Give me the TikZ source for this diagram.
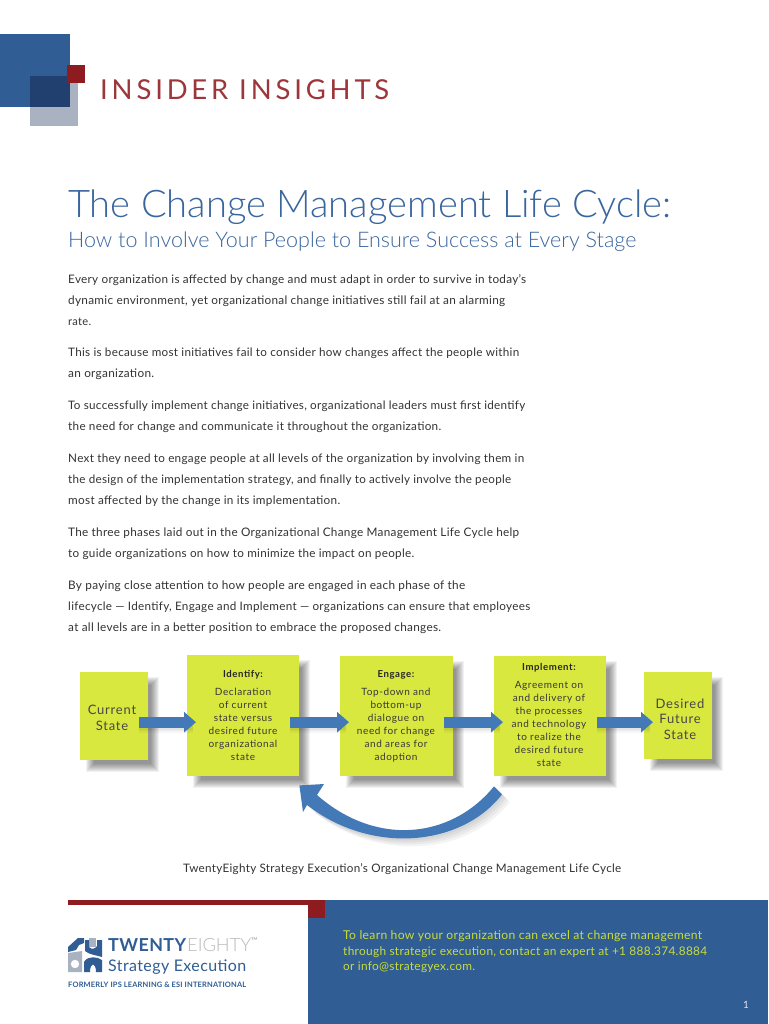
\documentclass[tikz,border=0pt]{standalone}
\usepackage{fontspec}
\usepackage{graphicx}
\setmainfont{Lato}[LetterSpace=2.5]
\newfontfamily\plainf{Lato}
\newfontfamily\lightf{Lato Light}
\newfontfamily\boxf{Lato}[LetterSpace=6]
\usetikzlibrary{arrows.meta,calc}
\definecolor{hblue}{HTML}{2F5D94}
\definecolor{hdark}{HTML}{22406F}
\definecolor{hgrey}{HTML}{A9B2C0}
\definecolor{hred}{HTML}{8E1B20}
\definecolor{tblue}{HTML}{3A669E}
\definecolor{boxy}{HTML}{D9E83F}
\definecolor{arrowb}{HTML}{4479B8}
\definecolor{bodyt}{HTML}{333333}
\definecolor{foott}{HTML}{C9DC3C}
\tikzset{
  linetxt/.style={anchor=west,inner sep=0pt,text=bodyt,font=\fontsize{11.5}{12}\selectfont},
  boxn/.style={fill=boxy,inner sep=0pt,anchor=north west,align=center,text=black!75},
  flow/.style={draw=arrowb,line width=11pt,-{Triangle[length=12pt,width=20pt]},shorten <=-9pt,shorten >=-9pt},
  flowsh/.style={draw=black,opacity=.035,line width=11pt,shorten <=-9pt,shorten >=-6pt},
  boxtxt/.style={inner sep=0pt,align=center,text=black!78,font=\boxf\fontsize{10}{13}\selectfont},
  boxhd/.style={inner sep=0pt,text=black!85,font=\boxf\fontsize{9.6}{13}\selectfont\bfseries},
  bigtxt/.style={inner sep=0pt,align=center,text=black!72,font=\boxf\fontsize{13}{15.5}\selectfont},
}
\newcommand{\fitline}[5]{% name,x,y,width,text
  \node[linetxt] (#1) at (#2,#3+2) {\resizebox{#4pt}{!}{\strut #5}};}
\newcommand{\softshadow}[4]{% x1,y1,x2,y2
  \foreach \d in {0,1,...,8}{
    \fill[black,opacity=.055] (#1+6+\d,#2+5+\d) rectangle (#3+7-\d+4,#4+8-\d+4);
  }}
\begin{document}
\begin{tikzpicture}[x=1pt,y=-1pt]
\useasboundingbox (0,0) rectangle (768,1024);
\fill[white] (0,0) rectangle (768,1024);
% header
\fill[hgrey] (30,76) rectangle (78,126);
\fill[hblue] (0,34) rectangle (70,107);
\fill[hdark] (30,76) rectangle (70,107);
\fill[hred] (67,65) rectangle (85,83);
\node[anchor=west,inner sep=0pt,text=hred!88] (ins) at (100,90) {\resizebox{289pt}{!}{\plainf\addfontfeatures{LetterSpace=14}\fontsize{28}{30}\selectfont INSIDER INSIGHTS}};
% titles
\node[anchor=west,inner sep=0pt,text=tblue] (title) at (68,209) {\resizebox{603pt}{!}{\lightf\fontsize{36}{40}\selectfont\strut The Change Management Life Cycle:}};
\node[anchor=west,inner sep=0pt,text=tblue] (sub) at (68,243) {\resizebox{568pt}{!}{\lightf\fontsize{19}{22}\selectfont\strut How to Involve Your People to Ensure Success at Every Stage}};
% body
\fitline{l1}{68}{279}{458}{Every organization is affected by change and must adapt in order to survive in today’s}
\fitline{l2}{68}{300}{437}{dynamic environment, yet organizational change initiatives still fail at an alarming}
\fitline{l3}{68}{321}{23}{rate.}
\fitline{l4}{68}{352}{451}{This is because most initiatives fail to consider how changes affect the people within}
\fitline{l5}{68}{373}{86}{an organization.}
\fitline{l6}{68}{405}{457}{To successfully implement change initiatives, organizational leaders must first identify}
\fitline{l7}{68}{426}{373}{the need for change and communicate it throughout the organization.}
\fitline{l8}{68}{458}{456}{Next they need to engage people at all levels of the organization by involving them in}
\fitline{l9}{68}{479}{443}{the design of the implementation strategy, and finally to actively involve the people}
\fitline{l10}{68}{500}{272}{most affected by the change in its implementation.}
\fitline{l11}{68}{532}{451}{The three phases laid out in the Organizational Change Management Life Cycle help}
\fitline{l12}{68}{553}{346}{to guide organizations on how to minimize the impact on people.}
\fitline{l13}{68}{585}{397}{By paying close attention to how people are engaged in each phase of the}
\fitline{l14}{68}{606}{462}{lifecycle — Identify, Engage and Implement — organizations can ensure that employees}
\fitline{l15}{68}{627}{373}{at all levels are in a better position to embrace the proposed changes.}
% shadows
\softshadow{80}{672}{148}{760}
\softshadow{187}{655}{299}{776}
\softshadow{340}{656}{453}{776}
\softshadow{494}{656}{606}{776}
\softshadow{644}{672}{712}{759}
% boxes
\node[boxn,minimum width=68pt,minimum height=88pt] (cur) at (80,672) {};
\node[boxn,minimum width=112pt,minimum height=121pt] (ide) at (187,655) {};
\node[boxn,minimum width=113pt,minimum height=120pt] (eng) at (340,656) {};
\node[boxn,minimum width=112pt,minimum height=120pt] (imp) at (494,656) {};
\node[boxn,minimum width=68pt,minimum height=87pt] (des) at (644,672) {};
% box texts
\node[bigtxt] (curt) at (112,718) {Current\\State};
\node[bigtxt] (dest) at (680,719) {Desired\\Future\\State};
\node[boxhd] (ideh) at (243,675) {Identify:};
\node[boxtxt,anchor=north] (idet) at (243,688) {Declaration\\of current\\state versus\\desired future\\organizational\\state};
\node[boxhd] (engh) at (396,675) {Engage:};
\node[boxtxt,anchor=north] (enget) at (396,688) {Top-down and\\bottom-up\\dialogue on\\need for change\\and areas for\\adoption};
\node[boxhd] (imph) at (549,668) {Implement:};
\node[boxtxt,anchor=north] (impt) at (549,681) {Agreement on\\and delivery of\\the processes\\and technology\\to realize the\\desired future\\state};
% arrows
\coordinate (a1) at ([yshift=-6pt]cur.east);
\coordinate (b1) at (ide.west|-a1);
\coordinate (a2) at (ide.east|-a1);
\coordinate (b2) at (eng.west|-a1);
\coordinate (a3) at (eng.east|-a1);
\coordinate (b3) at (imp.west|-a1);
\coordinate (a4) at (imp.east|-a1);
\coordinate (b4) at (des.west|-a1);
\foreach \p/\q in {a1/b1,a2/b2,a3/b3,a4/b4}{
  \foreach \s in {-2,-3.5,-5}{
    \draw[flowsh] ([yshift=\s pt]\p) -- ([yshift=\s pt]\q);
  }
  \draw[flow] (\p) -- (\q);
}
% loop arrow
\coordinate (ls1) at ([shift={(0,10)}]imp.south west);
\coordinate (ls2) at ([shift={(8,18)}]imp.south west);
\coordinate (le) at ([shift={(0,9)}]ide.south east);
\foreach \o in {2,4,6,8}{
\begin{scope}[shift={(\o,\o)}]
\fill[black,opacity=.045] (494,786) .. controls (450,840) and (375,846) .. (317,795) -- (307,805) .. controls (370,854) and (460,848) .. (502,794) -- cycle;
\end{scope}
}
\fill[arrowb] (ls1) .. controls (450,840) and (375,846) .. (317,795) -- (324,784) -- (le) -- (303,812) -- (307,805) .. controls (370,854) and (460,848) .. (ls2) -- cycle;
% caption
\node[linetxt] (cap) at (183,870) {\resizebox{438pt}{!}{\strut TwentyEighty Strategy Execution’s Organizational Change Management Life Cycle}};
% footer
\fill[hblue] (308,900) rectangle (768,1024);
\fill[hred] (68,900) rectangle (308,905);
\fill[hred] (308,900) rectangle (325,918);
\node[linetxt,text=foott] (f1) at (343,937) {\resizebox{359pt}{!}{\strut To learn how your organization can excel at change management}};
\node[linetxt,text=foott] (f2) at (343,953) {\resizebox{364pt}{!}{\strut through strategic execution, contact an expert at +1 888.374.8884}};
\node[linetxt,text=foott] (f3) at (343,968) {\resizebox{132pt}{!}{\strut or info@strategyex.com.}};
\node[inner sep=0pt,text=white!85!hblue,font=\fontsize{10}{12}\selectfont] (pg) at (746,1005) {1};
% logo icon
\fill[hgrey] (68,953) -- (82,951) -- (82,972) -- (68,972) -- cycle;
\fill[white] (75,964) circle (4.2);
\fill[hgrey] (89,938) rectangle (96,947);
\fill[hblue] (68,947) -- (78,938) -- (84,938) -- (84,943) -- (79,945) -- (76,950) -- (68,952) -- cycle;
\fill[hblue] (85,940) -- (89,940) -- (89,947) .. controls (92,950) and (95,949) .. (97,946) -- (97,940) -- (102,940) -- (102,957) .. controls (96,955) and (90,955) .. (85,951) -- cycle;
\fill[hblue] (84,972) -- (84,962) .. controls (88,955) and (98,957) .. (102,960) -- (102,972) -- (96,972) .. controls (96,962) and (90,962) .. (90,972) -- cycle;
% logo text
\node[anchor=west,inner sep=0pt,text=hblue] (lg1) at (108,945) {\resizebox{78pt}{!}{\bfseries TWENTY}};
\node[anchor=west,inner sep=0pt,text=black!28] (lg2) at (187,945) {\resizebox{64pt}{!}{\lightf EIGHTY}};
\node[anchor=south west,inner sep=0pt,text=black!45,font=\fontsize{4}{5}\selectfont] (lg3) at (251,941) {TM};
\node[anchor=west,inner sep=0pt,text=hblue] (lg4) at (108,968) {\resizebox{138pt}{!}{\strut Strategy Execution}};
\node[anchor=west,inner sep=0pt,text=hblue] (lg5) at (68,985) {\resizebox{178pt}{!}{\bfseries FORMERLY IPS LEARNING \& ESI INTERNATIONAL}};
\end{tikzpicture}
\end{document}
